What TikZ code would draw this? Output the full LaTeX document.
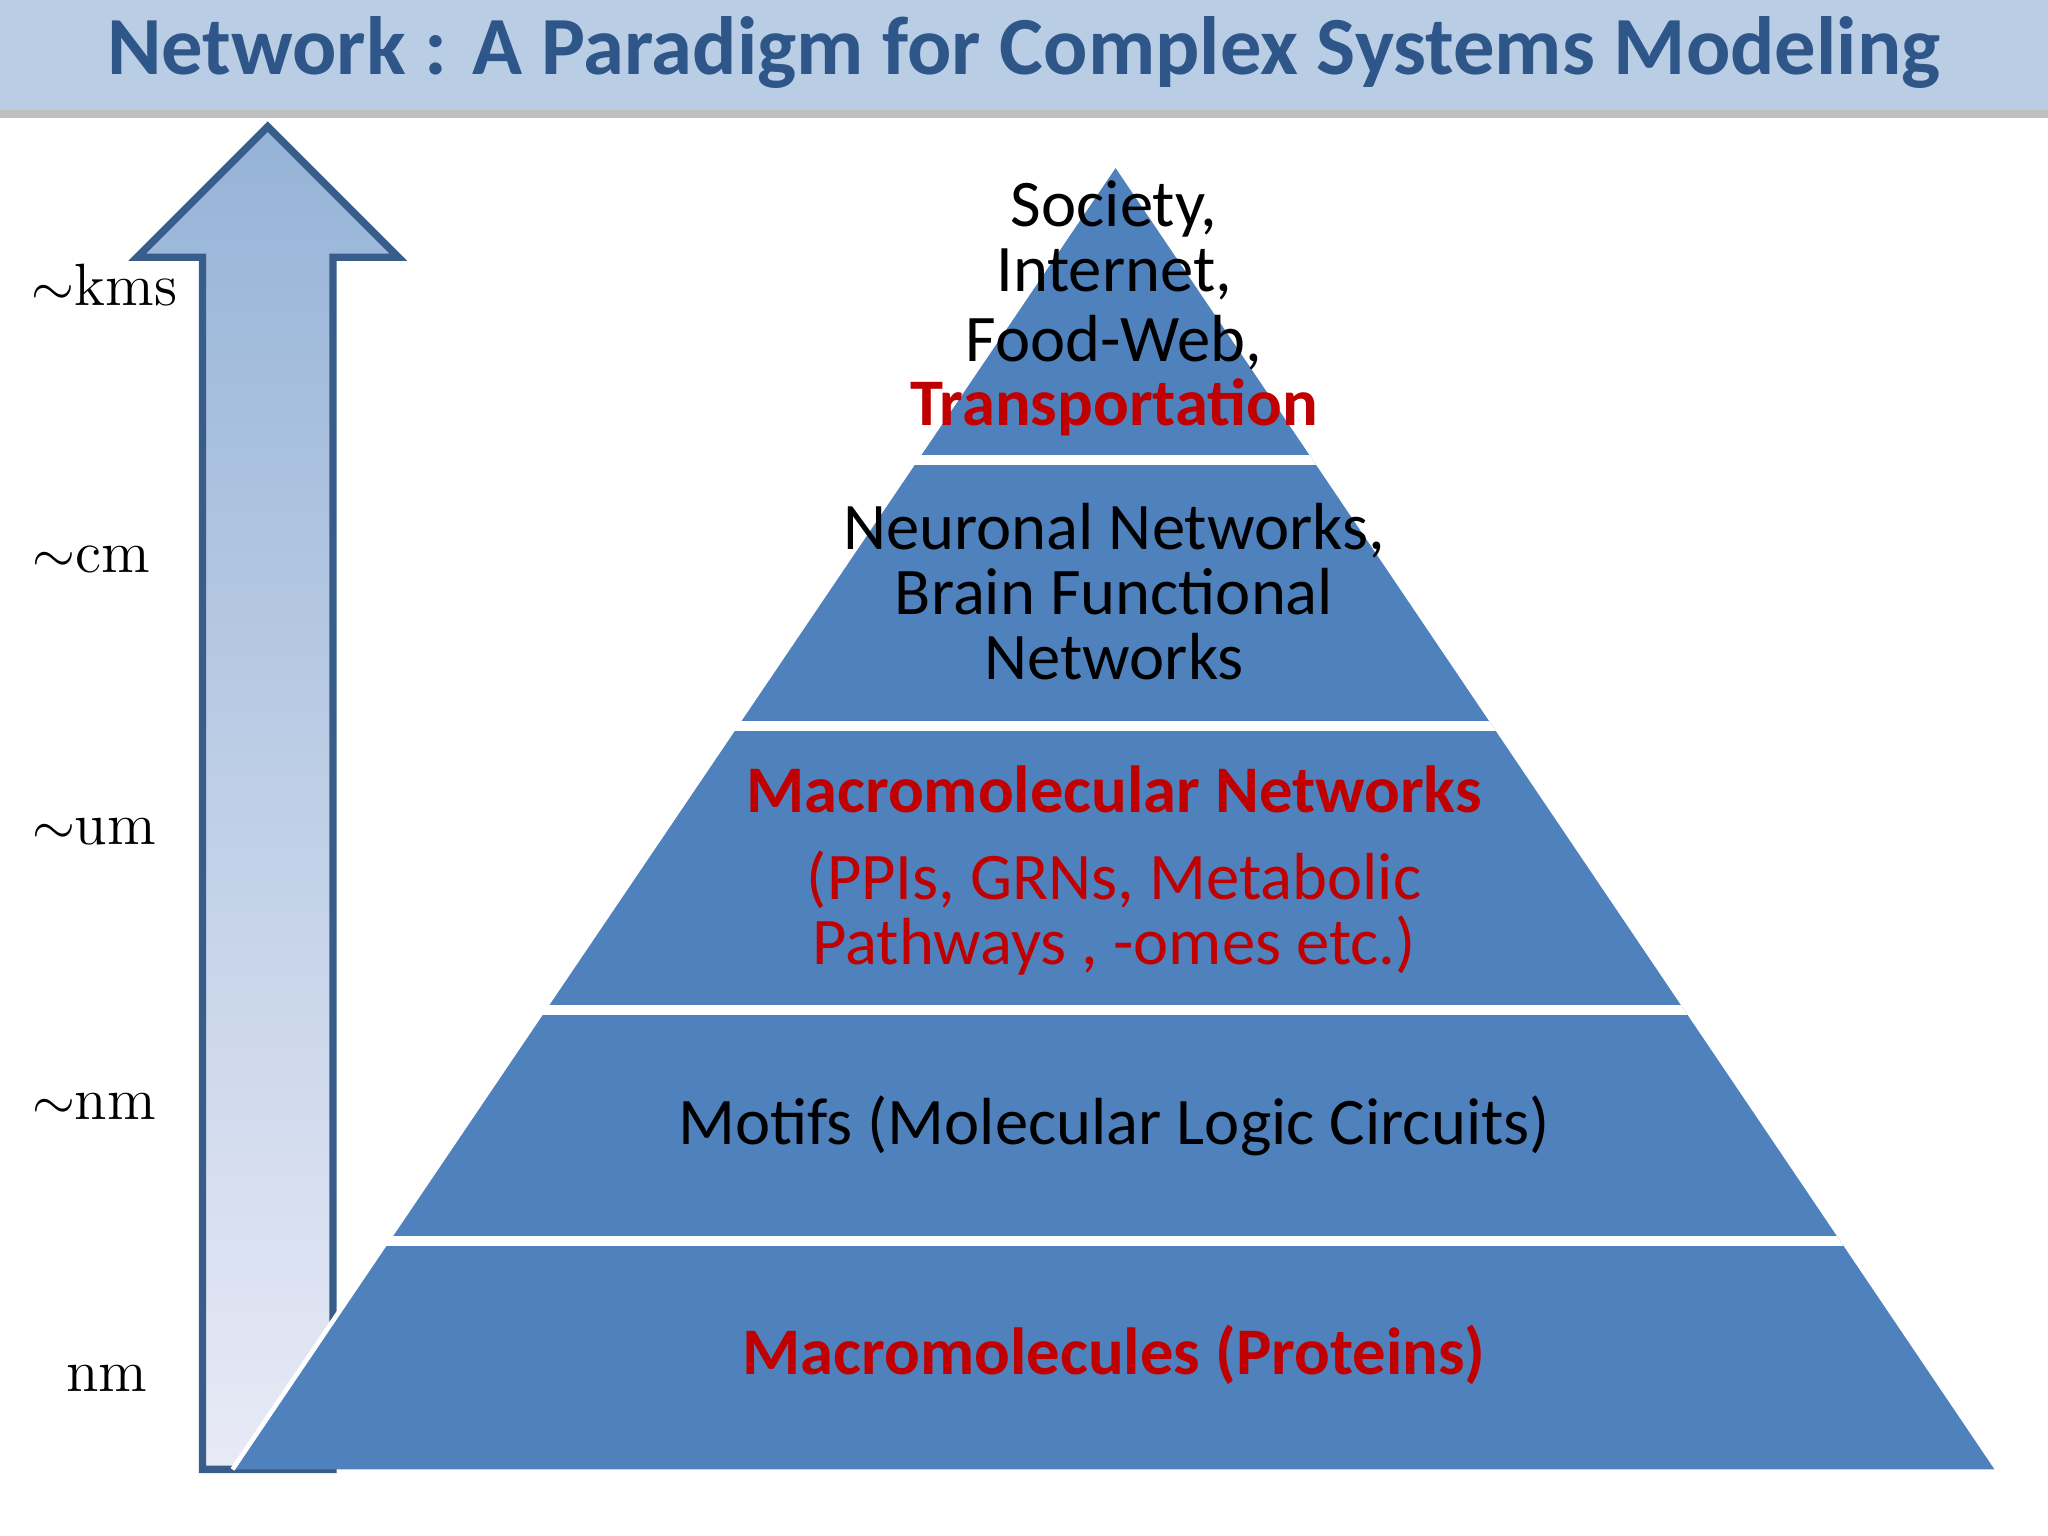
\documentclass[tikz,border=0pt]{standalone}
\usepackage{fontspec}
\newfontfamily\calib{Carlito}
\usetikzlibrary{shadows}
\definecolor{bannerblue}{HTML}{B9CDE5}
\definecolor{titleblue}{HTML}{2E5688}
\definecolor{pyrblue}{HTML}{4F81BD}
\definecolor{arrowtop}{HTML}{95B3D7}
\definecolor{arrowbot}{HTML}{E8EAF6}
\definecolor{arrowline}{HTML}{385D8A}
\definecolor{darkred}{HTML}{C00000}
\begin{document}
\begin{tikzpicture}[x=0.01cm, y=-0.01cm]
      \tikzset{
	  sizelabel/.style={font=\fontsize{13}{15}\selectfont, anchor=center},
	  layer/.style={font=\calib\fontsize{14.5}{14.2}\selectfont, align=center, text=black},
	  hot/.style={layer, text=darkred},
	  hotbold/.style={layer, text=darkred, font=\calib\bfseries\fontsize{14.5}{14.2}\selectfont}
      }
      \useasboundingbox (0,0) rectangle (1568,1176);

      % banner
      \fill[black!25] (0,84) rectangle (1568,90);
      \fill[bannerblue] (0,0) rectangle (1568,84);
      \node (title) [font=\calib\bfseries\fontsize{18}{20}\selectfont, text=titleblue] at (784,40) {Network : A Paradigm for Complex Systems Modeling};

      % scale arrow
      \def\arrowpath{(155,1125) -- (155,197) -- (105,197) -- (205,97) -- (305,197) -- (255,197) -- (255,1125) -- cycle}
      \draw[arrowline, line width=1.6pt, top color=arrowtop, bottom color=arrowbot] \arrowpath;

      \node (kms) [sizelabel] at (80,218) {$\sim$kms};
      \node (cm) [sizelabel] at (70,428) {$\sim$cm};
      \node (um) [sizelabel] at (72,637) {$\sim$um};
      \node (nmt) [sizelabel] at (72,847) {$\sim$nm};
      \node (nm) [sizelabel] at (82,1055) {nm};

      % pyramid
      \def\pyrpath{(853,127) -- (1527,1125) -- (178,1125) -- cycle}
      \fill[pyrblue] \pyrpath;
      \draw[white, line width=1pt] (853,127) -- (178,1125);
      \begin{scope}
	  \clip \pyrpath;
	  \foreach \y in {352,556,773,950}
	      \draw[white, line width=2.2pt] (0,\y) -- (1568,\y);
      \end{scope}

      \node (top) [layer] at (853,160) {Society,};
      \node (top2) [layer] at (853,210) {Internet,};
      \node (top3) [layer] at (853,262) {Food-Web,};
      \node (top4) [hotbold] at (853,312) {Transportation};
      \node (neuro) [layer] at (853,453) {Neuronal Networks,\\Brain Functional\\Networks};
      \node (macro) [hotbold] at (853,604) {Macromolecular Networks};
      \node (macro2) [hot] at (853,699) {(PPIs, GRNs, Metabolic\\Pathways , -omes etc.)};
      \node (motifs) [layer] at (853,862) {Motifs (Molecular Logic Circuits)};
      \node (prot) [hotbold] at (853,1037) {Macromolecules (Proteins)};
\end{tikzpicture}
\end{document}
